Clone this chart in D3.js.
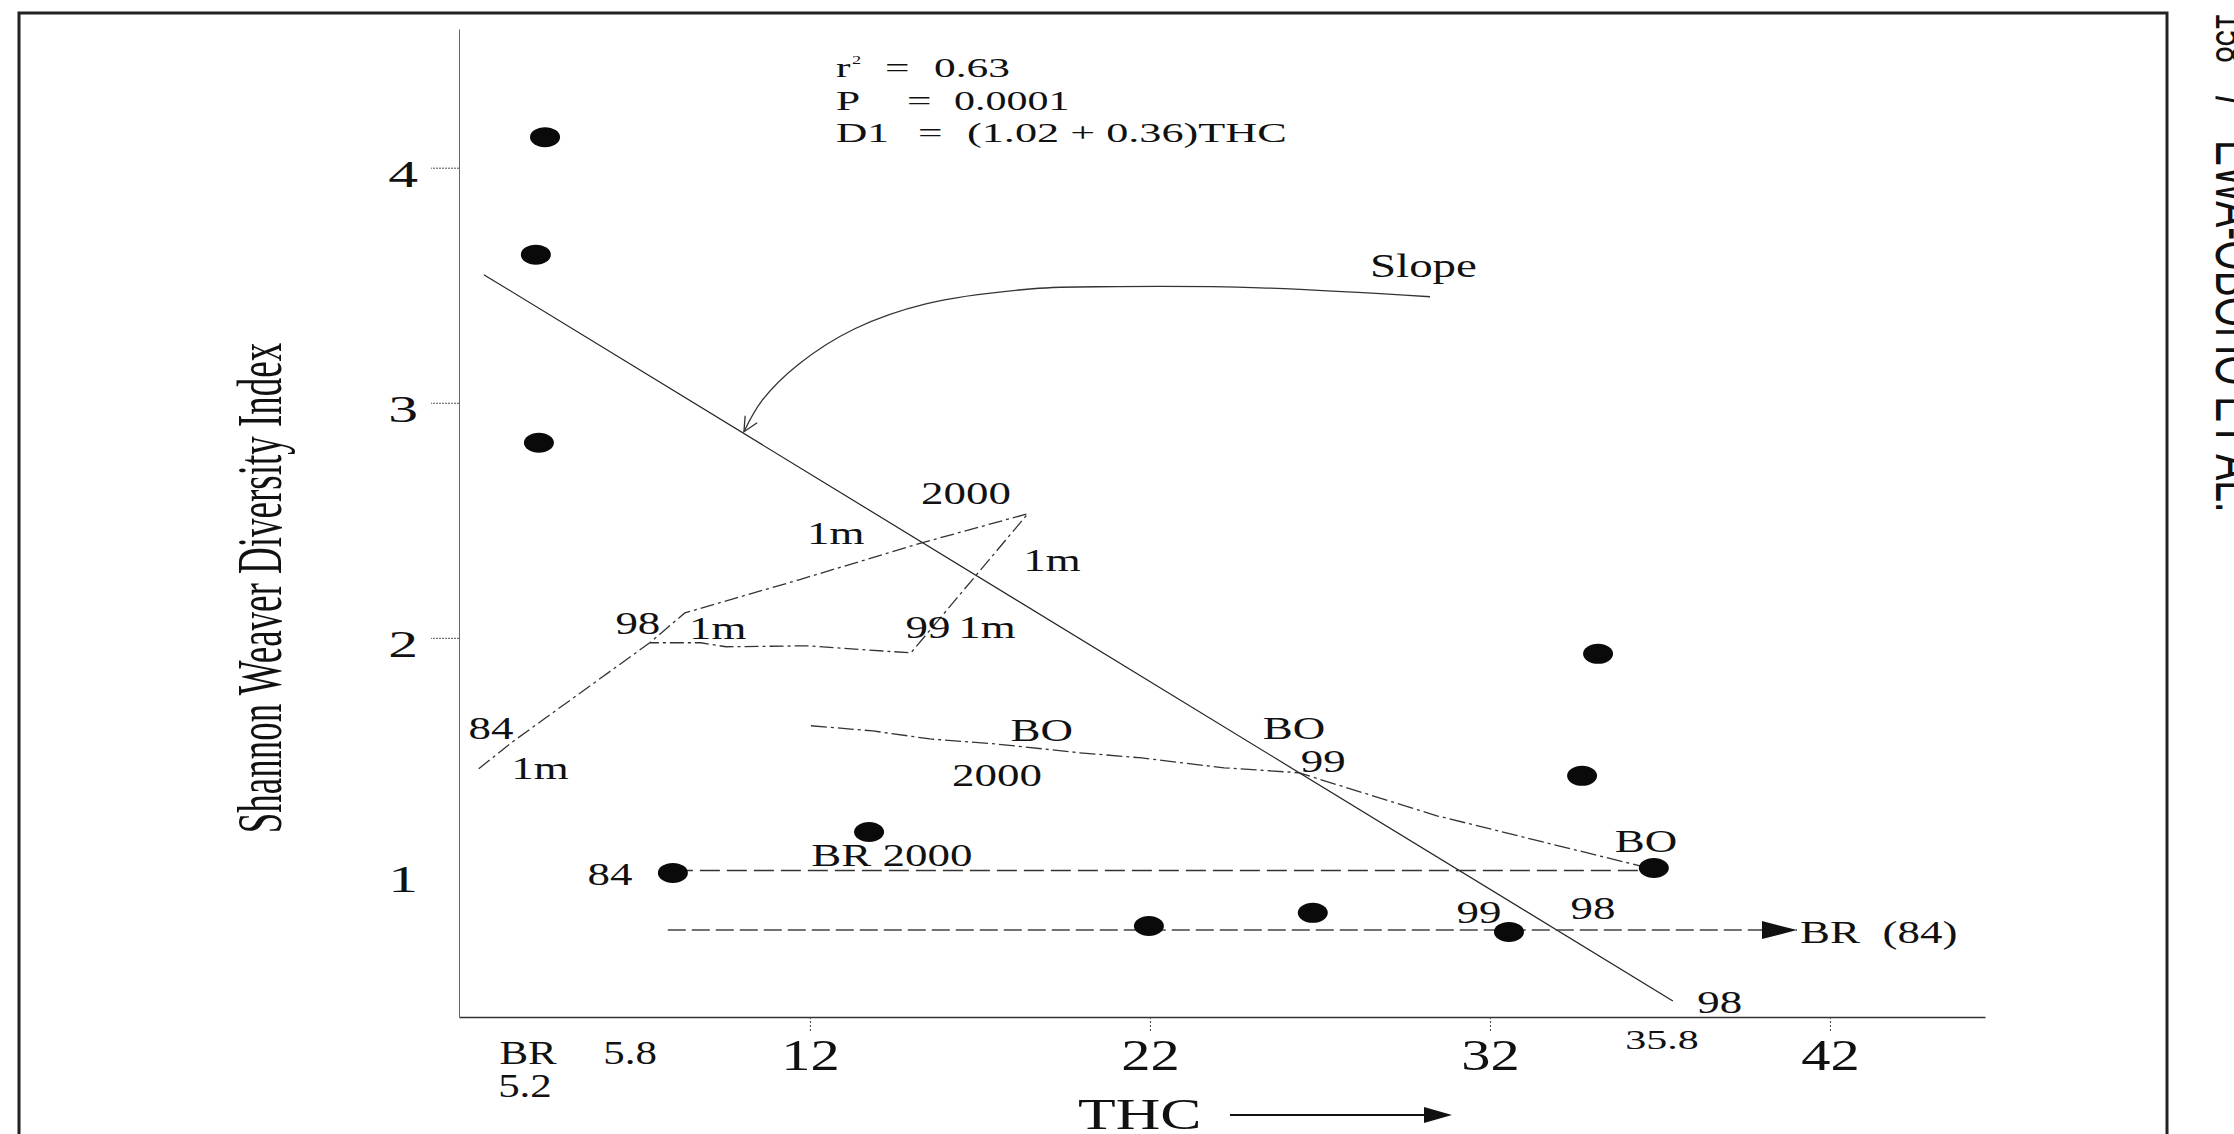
<!DOCTYPE html>
<html>
<head>
<meta charset="utf-8">
<script src="https://cdn.jsdelivr.net/npm/d3@7"></script>
<style>
  html, body { margin: 0; padding: 0; background: #fff; overflow: hidden; }
  svg { display: block; }
  text { font-family: "Liberation Serif", "Times New Roman", serif; fill: #111; }
</style>
</head>
<body>
<div id="chart"></div>
<script>
// sampling points (THC vs Shannon Weaver index)
const pointThc   = [4.21, 3.94, 4.03, 7.97, 13.74, 21.97, 26.79, 32.56, 35.18, 34.71, 36.82];
const pointIndex = [4.13, 3.63, 2.83, 1.00, 1.174, 0.774, 0.83, 0.749, 1.932, 1.413, 1.021];

// fitted line end points
const regThc   = [2.41, 37.38];
const regIndex = [3.545, 0.455];

// 1m track (84 -> 98 -> 2000 -> 99 -> back to 98)
const oneMThc   = [2.26, 3.21, 7.29, 8.32, 11.68, 15.29, 18.41, 14.97, 11.91, 9.53, 8.79, 7.29];
const oneMIndex = [1.443, 1.553, 1.979, 2.106, 2.247, 2.404, 2.528, 1.936, 1.966, 1.962, 1.979, 1.979];

// BO track
const boThc   = [12.03, 13.12, 13.85, 15.53, 17.44, 19.94, 21.76, 24.18, 26.38, 30.44, 36.41];
const boIndex = [1.626, 1.613, 1.604, 1.570, 1.549, 1.511, 1.489, 1.447, 1.426, 1.243, 1.030];

// BR tracks (horizontal)
const br2000Thc   = [7.97, 36.6];
const br2000Index = [1.01, 1.01];
const br84Thc     = [7.82, 41.03];
const br84Index   = [0.757, 0.757];

// "Slope" pointer curve
const slopeThc   = [30.24, 25.24, 21.03, 18.56, 15.41, 13.32, 11.65, 10.59, 10.06];
const slopeIndex = [3.451, 3.489, 3.494, 3.485, 3.421, 3.315, 3.162, 3.009, 2.877];

// in-plot annotations
const noteText  = ["2000", "1m", "1m", "98", "1m", "99", "1m", "84", "1m", "BO", "2000", "BR 2000", "84", "BO", "99", "BO", "98", "99", "98"];
const noteThc   = [16.59, 12.76, 19.12, 6.94, 9.29, 15.47, 17.21, 2.62, 4.06, 18.82, 17.5, 14.41, 6.12, 26.24, 27.1, 36.59, 35.03, 31.68, 38.76];
const noteIndex = [2.617, 2.447, 2.332, 2.064, 2.043, 2.047, 2.047, 1.617, 1.447, 1.609, 1.417, 1.077, 0.996, 1.615, 1.475, 1.136, 0.851, 0.834, 0.451];

const xTicks = [12, 22, 32, 42];
const yTicks = [1, 2, 3, 4];

const W = 2234, H = 1134;

const svg = d3.select("#chart").append("svg")
  .attr("width", W).attr("height", H)
  .style("background", "#fff");

const x = d3.scaleLinear().domain([1.68, 46.56]).range([459, 1985]);
const y = d3.scaleLinear().domain([0.387, 4.59]).range([1017, 29]);

// little helper: text with horizontal stretch (the scan is wide)
function label(g, str, px, py, o) {
  const t = g.append("text")
    .attr("transform", `translate(${px},${py}) scale(${o.sx || 1},1)` + (o.rot ? ` rotate(${o.rot})` : ""))
    .attr("font-size", o.size)
    .attr("text-anchor", o.anchor || "middle")
    .style("white-space", "pre")
    .text(str);
  if (o.mid) t.attr("dy", "0.35em");
  if (o.font) t.style("font-family", o.font);
  return t;
}

// page frame
svg.append("rect")
  .attr("x", 19).attr("y", 13)
  .attr("width", 2148).attr("height", 1200)
  .attr("fill", "none").attr("stroke", "#222").attr("stroke-width", 3);

// axes
const xAxis = svg.append("g")
  .attr("transform", "translate(0,1017)")
  .call(d3.axisBottom(x).tickValues(xTicks).tickFormat(d3.format("d")).tickSize(16).tickSizeOuter(0));
xAxis.select(".domain").attr("stroke", "#333").attr("stroke-width", 1.6);
xAxis.selectAll(".tick line").attr("stroke", "#444").attr("stroke-dasharray", "2,2");
xAxis.selectAll(".tick text")
  .attr("y", 53).attr("dy", 0)
  .attr("font-size", 44)
  .attr("font-family", null)
  .attr("fill", "#111")
  .attr("transform", "scale(1.33,1)");

const yAxis = svg.append("g")
  .attr("transform", "translate(459,0)")
  .call(d3.axisLeft(y).tickValues(yTicks).tickFormat(d3.format("d")).tickSize(28).tickSizeOuter(0));
yAxis.select(".domain").attr("stroke", "#666").attr("stroke-width", 1);
yAxis.selectAll(".tick line")
  .attr("stroke", "#555").attr("stroke-dasharray", "2,1")
  .attr("opacity", d => d === 1 ? 0 : 1);
yAxis.selectAll(".tick text")
  .attr("x", -41 / 1.57).attr("dy", "0.5em")
  .attr("font-size", 38)
  .attr("font-family", null)
  .attr("fill", "#111")
  .attr("transform", "scale(1.57,1)");

// extra x labels
const g = svg.append("g");
label(g, "BR", x(3.71), 1064, {size: 33, sx: 1.3});
label(g, "5.2", x(3.62), 1097, {size: 33, sx: 1.3});
label(g, "5.8", x(6.71), 1064, {size: 33, sx: 1.3});
label(g, "35.8", x(37.06), 1049, {size: 28, sx: 1.5});

// axis titles
label(g, "Shannon Weaver Diversity Index", 281, 588, {size: 37, sx: 1.7, rot: -90});
label(g, "THC", 1078, 1129, {size: 45, sx: 1.37, anchor: "start"});
g.append("line")
  .attr("x1", 1230).attr("x2", 1428).attr("y1", 1115).attr("y2", 1115)
  .attr("stroke", "#111").attr("stroke-width", 2);
g.append("path")
  .attr("d", "M1424,1107L1452,1115L1424,1123Z")
  .attr("fill", "#111");

// lines
const line = d3.line().x(d => x(d[0])).y(d => y(d[1]));
const zip = (a, b) => a.map((v, i) => [v, b[i]]);

svg.append("path")
  .attr("d", line(zip(regThc, regIndex)))
  .attr("fill", "none").attr("stroke", "#222").attr("stroke-width", 1.2);

svg.append("path")
  .attr("d", line(zip(oneMThc, oneMIndex)))
  .attr("fill", "none").attr("stroke", "#333").attr("stroke-width", 1.3)
  .attr("stroke-dasharray", "14,4,3,4");

svg.append("path")
  .attr("d", line(zip(boThc, boIndex)))
  .attr("fill", "none").attr("stroke", "#333").attr("stroke-width", 1.3)
  .attr("stroke-dasharray", "16,4,3,4");

svg.append("path")
  .attr("d", line(zip(br2000Thc, br2000Index)))
  .attr("fill", "none").attr("stroke", "#333").attr("stroke-width", 1.6)
  .attr("stroke-dasharray", "20,7");

svg.append("path")
  .attr("d", line(zip(br84Thc, br84Index)))
  .attr("fill", "none").attr("stroke", "#444").attr("stroke-width", 1.4)
  .attr("stroke-dasharray", "18,6");

// BR (84) arrow head
const tipX = x(br84Thc[1]), tipY = y(br84Index[1]);
svg.append("path")
  .attr("d", `M${tipX - 35},${tipY - 9}L${tipX},${tipY}L${tipX - 35},${tipY + 9}Z`)
  .attr("fill", "#111");

// slope pointer
const curve = d3.line().x(d => x(d[0])).y(d => y(d[1])).curve(d3.curveCatmullRom);
const sp = zip(slopeThc, slopeIndex);
svg.append("path")
  .attr("d", curve(sp))
  .attr("fill", "none").attr("stroke", "#333").attr("stroke-width", 1.3);
{
  const a = sp[sp.length - 2], b = sp[sp.length - 1];
  const ang = Math.atan2(y(b[1]) - y(a[1]), x(b[0]) - x(a[0]));
  const bx = x(b[0]), by = y(b[1]), L = 16, sp2 = 0.45;
  svg.append("path")
    .attr("d", `M${bx - L * Math.cos(ang - sp2)},${by - L * Math.sin(ang - sp2)}L${bx},${by}L${bx - L * Math.cos(ang + sp2)},${by - L * Math.sin(ang + sp2)}`)
    .attr("fill", "none").attr("stroke", "#333").attr("stroke-width", 1.3);
}

// points
svg.append("g").selectAll("ellipse")
  .data(zip(pointThc, pointIndex))
  .join("ellipse")
  .attr("cx", d => x(d[0])).attr("cy", d => y(d[1]))
  .attr("rx", 15).attr("ry", 10)
  .attr("fill", "#0a0a0a");

// annotations
const notes = svg.append("g");
noteText.forEach((t, i) => {
  label(notes, t, x(noteThc[i]), y(noteIndex[i]), {size: 31, sx: 1.45, mid: true});
});
label(notes, "BR  (84)", x(41.12), y(0.749), {size: 31, sx: 1.45, mid: true, anchor: "start"});

// equation block
const eq = svg.append("g");
label(eq, "r", 836, 77, {size: 28, sx: 1.55, anchor: "start"});
label(eq, "2", 852, 64, {size: 13, sx: 1.4, anchor: "start"});
label(eq, "=", 885, 77, {size: 28, sx: 1.55, anchor: "start"});
label(eq, "0.63", 934, 77, {size: 28, sx: 1.55, anchor: "start"});
label(eq, "P", 836, 110, {size: 28, sx: 1.55, anchor: "start"});
label(eq, "=", 907, 110, {size: 28, sx: 1.55, anchor: "start"});
label(eq, "0.0001", 954, 110, {size: 28, sx: 1.5, anchor: "start"});
label(eq, "D1", 836, 142, {size: 28, sx: 1.55, anchor: "start"});
label(eq, "=", 918, 142, {size: 28, sx: 1.55, anchor: "start"});
label(eq, "(1.02 + 0.36)THC", 967, 142, {size: 28, sx: 1.58, anchor: "start"});

label(svg, "Slope", 1370, 277, {size: 34, sx: 1.38, anchor: "start"});

// running head on the right edge
const sans = "'Liberation Sans', Arial, sans-serif";
label(svg, "158", 2216, 63, {size: 30, sx: 1.5, rot: 90, anchor: "end", font: sans});
label(svg, "/", 2216, 96, {size: 38, sx: 1.5, rot: 90, anchor: "start", font: sans});
label(svg, "EWA-OBOHO ET AL.", 2216, 140, {size: 39, sx: 1.5, rot: 90, anchor: "start", font: sans});
</script>
</body>
</html>
